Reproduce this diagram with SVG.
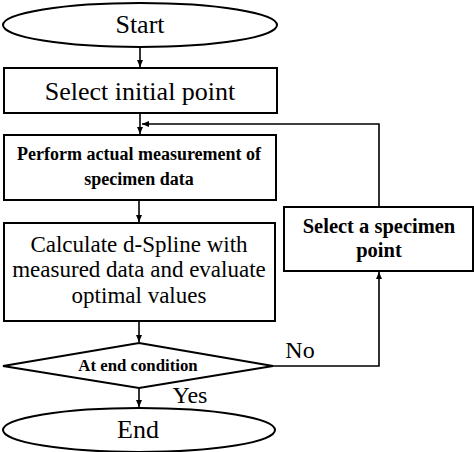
<svg xmlns="http://www.w3.org/2000/svg" width="474" height="452" viewBox="0 0 474 452">
<defs>
<style>
.s{fill:#fff;stroke:#000;stroke-width:2}
.c{fill:none;stroke:#000;stroke-width:1.6}
</style>
<marker id="a" markerWidth="8" markerHeight="8" refX="7" refY="4" orient="auto" markerUnits="userSpaceOnUse">
<path d="M0,1 L7,4 L0,7 Z" fill="#000"/>
</marker>
</defs>
<rect width="474" height="452" fill="#fff"/>
<g id="start">
<ellipse class="s" cx="140" cy="25" rx="137" ry="22"/>
<text x="140" y="33" font-size="26" font-weight="normal" font-family="Times New Roman" text-anchor="middle">Start</text>
</g>
<g id="select-initial">
<rect class="s" x="4" y="68" width="273" height="45"/>
<text x="140" y="100" font-size="26" font-weight="normal" font-family="Times New Roman" text-anchor="middle">Select initial point</text>
</g>
<g id="perform">
<rect class="s" x="4" y="135" width="272" height="65"/>
<text x="139" y="160" font-size="18" font-weight="bold" font-family="Times New Roman" text-anchor="middle">Perform actual measurement of</text>
<text x="139" y="185" font-size="18" font-weight="bold" font-family="Times New Roman" text-anchor="middle">specimen data</text>
</g>
<g id="calculate">
<rect class="s" x="4" y="223" width="271" height="98"/>
<text x="139" y="252" font-size="23" font-weight="normal" font-family="Times New Roman" text-anchor="middle">Calculate d-Spline with</text>
<text x="139" y="277" font-size="23" font-weight="normal" font-family="Times New Roman" text-anchor="middle">measured data and evaluate</text>
<text x="139" y="303" font-size="23" font-weight="normal" font-family="Times New Roman" text-anchor="middle">optimal values</text>
</g>
<g id="decision">
<polygon class="s" points="139,343 273,366 139,388 3,366"/>
<text x="138" y="371" font-size="16.8" font-weight="bold" font-family="Times New Roman" text-anchor="middle">At end condition</text>
</g>
<g id="select-specimen">
<rect class="s" x="284" y="207" width="189" height="64"/>
<text x="379" y="233" font-size="20.5" font-weight="bold" font-family="Times New Roman" text-anchor="middle">Select a specimen</text>
<text x="379" y="257" font-size="20.5" font-weight="bold" font-family="Times New Roman" text-anchor="middle">point</text>
</g>
<g id="end">
<ellipse class="s" cx="139" cy="430" rx="136" ry="22"/>
<text x="138" y="438" font-size="26" font-weight="normal" font-family="Times New Roman" text-anchor="middle">End</text>
</g>
<g id="connectors">
<line class="c" x1="140" y1="47" x2="140" y2="67" marker-end="url(#a)"/>
<line class="c" x1="140" y1="113" x2="140" y2="134" marker-end="url(#a)"/>
<polyline class="c" points="379,207 379,124 142,124" marker-end="url(#a)"/>
<line class="c" x1="139" y1="200" x2="139" y2="222" marker-end="url(#a)"/>
<line class="c" x1="139" y1="321" x2="139" y2="342" marker-end="url(#a)"/>
<polyline class="c" points="273,366 379,366 379,272" marker-end="url(#a)"/>
<line class="c" x1="139" y1="388" x2="139" y2="407" marker-end="url(#a)"/>
<text x="300" y="358" font-size="24" font-weight="normal" font-family="Times New Roman" text-anchor="middle">No</text>
<text x="190" y="403" font-size="24" font-weight="normal" font-family="Times New Roman" text-anchor="middle">Yes</text>
</g>
</svg>
